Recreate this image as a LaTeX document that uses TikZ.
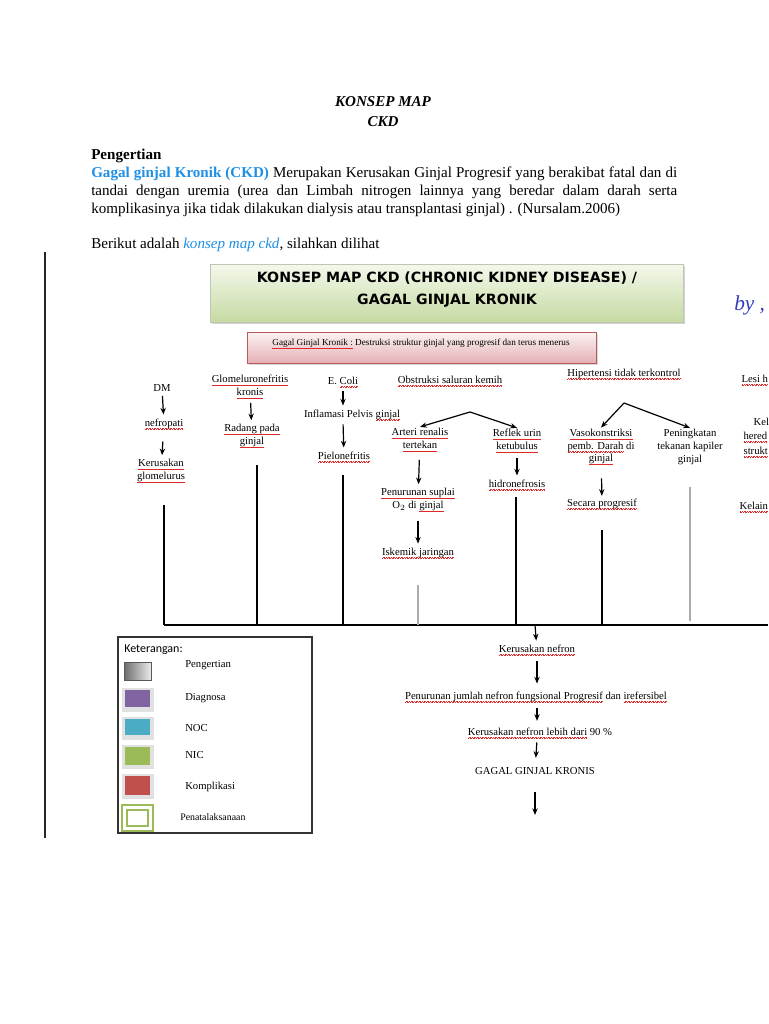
\documentclass[tikz,border=0pt]{standalone}
\usepackage{fontspec}
\setmainfont{Liberation Serif}
\newfontfamily\titlefont{DejaVu Sans}
\newfontfamily\calib{Carlito}
\usetikzlibrary{arrows.meta,shadows}
\definecolor{spellred}{RGB}{225,40,40}
\definecolor{linkblue}{RGB}{30,144,230}
\definecolor{bytext}{RGB}{50,60,190}
\definecolor{titletop}{RGB}{244,248,236}
\definecolor{titlebot}{RGB}{198,218,162}
\definecolor{titleframe}{RGB}{190,198,180}
\definecolor{pinktop}{RGB}{252,244,244}
\definecolor{pinkbot}{RGB}{228,176,180}
\definecolor{pinkframe}{RGB}{185,90,90}
\definecolor{legpurple}{RGB}{128,100,162}
\definecolor{legcyan}{RGB}{75,172,198}
\definecolor{leggreen}{RGB}{155,187,89}
\definecolor{legred}{RGB}{192,80,77}
\definecolor{legframe}{RGB}{225,225,225}
\newsavebox\wvbox
\newcommand\wv[1]{\sbox\wvbox{#1}\leavevmode\rlap{\color{spellred}\hbox to\wd\wvbox{\xleaders\hbox{\rule[-2.2pt]{0.6pt}{0.35pt}\rule[-1.8pt]{0.6pt}{0.35pt}}\hfill}}\usebox\wvbox}
\tikzset{
  t/.style={font=\fontsize{8}{9.5}\selectfont, align=center, inner sep=1pt},
  tw/.style={t, anchor=west},
  arr/.style={draw, line width=0.9pt, -{Stealth[length=5pt,width=4pt]}, shorten <=2pt, shorten >=2pt},
  ln/.style={draw, line width=0.9pt},
  lng/.style={draw=gray!65, line width=0.8pt},
  body/.style={font=\fontsize{11.3}{13.5}\selectfont, inner sep=0pt},
  legtxt/.style={font=\fontsize{8}{9.5}\selectfont, inner sep=0pt, anchor=west},
}
\begin{document}
\begin{tikzpicture}[x=0.75pt,y=-0.75pt]
\useasboundingbox (0,0) rectangle (768,1024);
\fill[white] (0,0) rectangle (768,1024);
\clip (0,0) rectangle (768,1024);

% ---------- document text ----------
\node[body, font=\fontsize{11.3}{13.5}\selectfont\bfseries\itshape] (h1) at (383,102) {KONSEP MAP};
\node[body, font=\fontsize{11.3}{13.5}\selectfont\bfseries\itshape] (h2) at (383,122) {CKD};
\node[body, font=\fontsize{11.3}{13.5}\selectfont\bfseries, anchor=west] (peng) at (91,156) {Pengertian};
\node[body, anchor=north west, text width=439.5pt, align=justify] (par) at (91,167)
 {\textcolor{linkblue}{\bfseries Gagal ginjal Kronik (CKD)} Merupakan Kerusakan Ginjal Progresif yang berakibat fatal dan di\linebreak
  tandai dengan uremia (urea dan Limbah nitrogen lainnya yang beredar dalam darah serta\linebreak
  komplikasinya jika tidak dilakukan dialysis atau transplantasi ginjal) . (Nursalam.2006)};
\node[body, anchor=base west] (berikut) at (91,248)
 {Berikut adalah \textcolor{linkblue}{\itshape konsep map ckd}, silahkan dilihat};

\draw[line width=1pt, black!85] (45,252) -- (45,838);

% ---------- title box ----------
\node[draw=titleframe, line width=0.6pt, top color=titletop, bottom color=titlebot,
      minimum width=354.75pt, minimum height=43.5pt, inner sep=0pt,
      drop shadow={shadow xshift=1.5pt, shadow yshift=-1.5pt, opacity=0.35}] (tbox) at (446.5,293) {};
\node[font=\titlefont\bfseries\fontsize{10.6}{16.5}\selectfont, align=center, inner sep=0pt] (ttext) at (447,290)
 {KONSEP MAP CKD (CHRONIC KIDNEY DISEASE) /\\GAGAL GINJAL KRONIK};
\node[font=\itshape\fontsize{16}{18}\selectfont, text=bytext, anchor=west, inner sep=0pt] (by) at (734,305) {by ,};

% ---------- definition box ----------
\node[draw=pinkframe, line width=0.5pt, top color=pinktop, bottom color=pinkbot,
      minimum width=261.75pt, minimum height=23.25pt, inner sep=0pt,
      drop shadow={shadow xshift=1.5pt, shadow yshift=-1.5pt, opacity=0.3}] (pbox) at (421.5,347.5) {};
\node[font=\fontsize{6.9}{8}\selectfont, inner sep=0pt] (ptext) at (421,344)
 {\wv{Gagal Ginjal Kronik :} Destruksi struktur ginjal yang progresif dan terus menerus};

% ---------- causes ----------
\node[t] (dm)  at (162,388) {DM};
\node[t] (nef) at (164,424) {\wv{nefropati}};
\node[t] (kg)  at (161,471) {\wv{Kerusakan}\\\wv{glomelurus}};

\node[t] (glo) at (250,387) {\wv{Glomeluronefritis}\\\wv{kronis}};
\node[t] (rad) at (252,436) {\wv{Radang pada}\\\wv{ginjal}};

\node[t] (eco) at (343,382) {E. \wv{Coli}};
\node[t] (inf) at (352,415) {Inflamasi Pelvis \wv{ginjal}};
\node[t] (pie) at (344,457) {\wv{Pielonefritis}};

\node[t] (obs) at (450,381) {\wv{Obstruksi saluran kemih}};
\node[t] (art) at (420,440) {\wv{Arteri renalis}\\\wv{tertekan}};
\node[t] (pen) at (418,500) {\wv{Penurunan suplai}\\O$_2$ di \wv{ginjal}};
\node[t] (isk) at (418,553) {\wv{Iskemik jaringan}};
\node[t] (ref) at (517,441) {\wv{Reflek urin}\\\wv{ketubulus}};
\node[t] (hid) at (517,485) {\wv{hidronefrosis}};

\node[t] (hip) at (624,374) {\wv{Hipertensi tidak terkontrol}};
\node[t] (vas) at (601,447) {\wv{Vasokonstriksi}\\\wv{pemb. Darah} di\\\wv{ginjal}};
\node[t] (sec) at (602,504) {\wv{Secara progresif}};
\node[t] (pkg) at (690,447) {Peningkatan\\tekanan kapiler\\ginjal};

\node[tw] (les) at (740,380) {\wv{Lesi h}};
\node[tw] (kel) at (752,422) {Kel};
\node[tw] (her) at (742,437) {\wv{hered}};
\node[tw] (str) at (742,452) {\wv{strukt}};
\node[tw] (kln) at (738,507) {\wv{Kelain}};

% arrows
\draw[arr] (dm) -- (nef);
\draw[arr, shorten <=8pt] (nef) -- (kg);
\draw[arr] (glo) -- (rad);
\draw[arr] (eco) -- (eco |- inf.north);
\draw[arr] (inf.south -| eco) -- (pie);
\draw[arr, shorten <=5pt] (art) -- (pen);
\draw[arr, shorten <=6pt] (pen) -- (isk);
\draw[arr, shorten <=3pt] (ref) -- (hid);
\draw[arr, shorten <=9pt, shorten >=1pt] (vas) -- (sec);

\coordinate (obsA) at (470,412);
\coordinate (hipA) at (624,403);
\draw[arr, shorten <=0pt, shorten >=0pt] (obsA) -- (art.north);
\draw[arr, shorten <=0pt, shorten >=0pt] (obsA) -- (ref.north);
\draw[arr, shorten <=0pt, shorten >=0pt] (hipA) -- (vas.north);
\draw[arr, shorten <=0pt, shorten >=0pt] (hipA) -- (pkg.north);

% lines to the bus
\coordinate (busL) at (164,625);
\coordinate (busR) at (768,625);
\coordinate (busM) at (535,625);
\coordinate (kgT)  at (164,505);
\coordinate (radT) at (257,465);
\coordinate (pieT) at (343,475);
\coordinate (iskT) at (418,585);
\coordinate (hidT) at (516,497);
\coordinate (secT) at (602,530);
\coordinate (pkgT) at (690,487);
\draw[ln] (busL) -- (busR);
\draw[ln] (kgT) -- (kgT |- busL);
\draw[ln] (radT) -- (radT |- busL);
\draw[ln] (pieT) -- (pieT |- busL);
\draw[lng] (iskT) -- (iskT |- busL);
\draw[ln] (hidT) -- (hidT |- busL);
\draw[ln] (secT) -- (secT |- busL);
\draw[lng, line width=1.1pt] (pkgT) -- (690,621);

% ---------- outcome chain ----------
\node[t] (kn)  at (537,650) {\wv{Kerusakan nefron}};
\node[t] (pj)  at (536,697) {\wv{Penurunan jumlah nefron fungsional Progresif} dan \wv{irefersibel}};
\node[t] (kl)  at (540,733) {\wv{Kerusakan nefron lebih dari} 90 \%};
\node[t] (ggk) at (535,771) {GAGAL GINJAL KRONIS};
\coordinate (endA) at (535,815);
\draw[arr, shorten <=0pt] (busM) -- (kn);
\draw[arr, shorten <=3pt, shorten >=5pt] (kn) -- (pj.north -| kn);
\draw[arr, shorten <=3pt, shorten >=4pt] (pj.south -| kn) -- (kl.north -| kn);
\draw[arr, shorten <=2pt, shorten >=6pt] (kl.south -| kn) -- (ggk);
\draw[arr, shorten <=12pt, shorten >=0pt] (ggk) -- (endA);

% ---------- legend ----------
\draw[line width=0.8pt, black!80] (118,637) rectangle (312,833);
\node[font=\calib\fontsize{9}{10}\selectfont, anchor=west, inner sep=0pt] (ket) at (124,650) {Keterangan:};
\shade[left color=gray!85!black, right color=gray!15, draw=gray!70!black] (124,662) rectangle (151,680);
\fill[legframe] (122,688) rectangle (154,712); \fill[legpurple] (125,690) rectangle (150,707);
\fill[legframe] (122,717) rectangle (154,740); \fill[legcyan] (125,719) rectangle (150,735);
\fill[legframe] (122,745) rectangle (154,769); \fill[leggreen] (125,747) rectangle (150,765);
\fill[legframe] (122,774) rectangle (154,799); \fill[legred] (125,776) rectangle (150,795);
\draw[leggreen, line width=2pt] (122,805) rectangle (153,831);
\draw[leggreen, line width=0.8pt] (127,810) rectangle (148,826);
\node[legtxt] (l1) at (185,665) {Pengertian};
\node[legtxt] (l2) at (185,698) {Diagnosa};
\node[legtxt] (l3) at (185,728) {NOC};
\node[legtxt] (l4) at (185,755) {NIC};
\node[legtxt] (l5) at (185,787) {Komplikasi};
\node[legtxt, font=\fontsize{7.4}{9}\selectfont] (l6) at (180,817) {Penatalaksanaan};
\end{tikzpicture}
\end{document}
